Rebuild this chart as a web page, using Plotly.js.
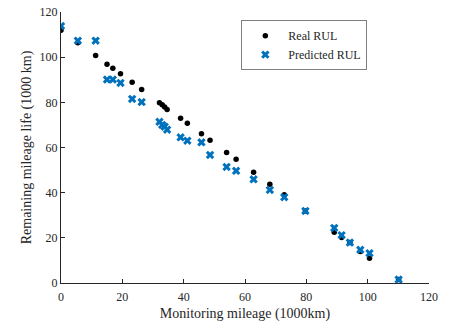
<!DOCTYPE html>
<html>
<head>
<meta charset="utf-8">
<script src="https://cdn.plot.ly/plotly-3.0.1.min.js"></script>
<style>html,body{margin:0;padding:0;background:#fff;}#chart{width:474px;height:323px;}</style>
</head>
<body>
<div id="chart"></div>
<script>
const mileage = [0, 5.5, 11.3, 15, 16.9, 19.4, 23.2, 26.3, 32.1, 33, 33.8, 34.6, 39, 41.2, 45.8, 48.6, 54, 57.1, 62.8, 68.1, 72.8, 79.7, 89.1, 91.5, 94.2, 97.6, 100.6, 110.1];
const realRUL = [111.9, 106.4, 100.7, 96.9, 95.1, 92.7, 88.9, 85.7, 79.8, 78.9, 77.9, 76.8, 72.9, 70.7, 66.1, 63.2, 57.8, 54.8, 49.0, 43.7, 39.1, 31.9, 22.5, 20.1, 17.9, 14.0, 11.0, 1.5];
const predRUL = [113.8, 107.3, 107.3, 90.1, 90.1, 88.6, 81.5, 80.1, 71.4, 70.0, 69.2, 67.9, 64.5, 63.0, 62.3, 56.7, 51.4, 49.7, 45.9, 41.2, 38.0, 31.9, 24.4, 21.2, 17.9, 14.7, 13.2, 1.5];
const xTicks = [0, 20, 40, 60, 80, 100, 120];
const yTicks = [0, 20, 40, 60, 80, 100, 120];

const font = {family: '"Liberation Serif", "Times New Roman", serif', color: '#262626'};
const traces = [
  {x: mileage, y: realRUL, mode: 'markers', type: 'scatter', name: 'Real RUL',
   marker: {color: '#000000', size: 5.5, symbol: 'circle'}},
  {x: mileage, y: predRUL, mode: 'markers', type: 'scatter', name: 'Predicted RUL',
   marker: {color: '#0072BD', size: 7.5, symbol: 'x'}}
];
const axisCommon = {showline: true, linecolor: '#262626', linewidth: 1, mirror: false, showgrid: false,
  zeroline: false, ticks: 'inside', ticklen: 4, tickcolor: '#262626', tickfont: Object.assign({size: 12}, font)};
const layout = {
  width: 474, height: 323,
  margin: {l: 61, r: 45, t: 12, b: 40, pad: 0},
  paper_bgcolor: '#ffffff', plot_bgcolor: '#ffffff',
  font: font,
  showlegend: true,
  legend: {x: 0.49, y: 0.97, xanchor: 'left', yanchor: 'top', bordercolor: '#808080', borderwidth: 1,
    bgcolor: '#ffffff', itemwidth: 36, font: Object.assign({size: 12}, font)},
  xaxis: Object.assign({}, axisCommon, {range: [0, 120], tickvals: xTicks, ticktext: xTicks.map(String),
    ticklabelstandoff: 3,
    title: {text: 'Monitoring mileage (1000km)', font: Object.assign({size: 14}, font), standoff: 4}}),
  yaxis: Object.assign({}, axisCommon, {range: [0, 120], tickvals: yTicks, ticktext: yTicks.map(String),
    title: {text: 'Remaining mileage life (1000 km)', font: Object.assign({size: 14}, font), standoff: 4}})
};
Plotly.newPlot('chart', traces, layout, {displayModeBar: false, staticPlot: true});
</script>
</body>
</html>
